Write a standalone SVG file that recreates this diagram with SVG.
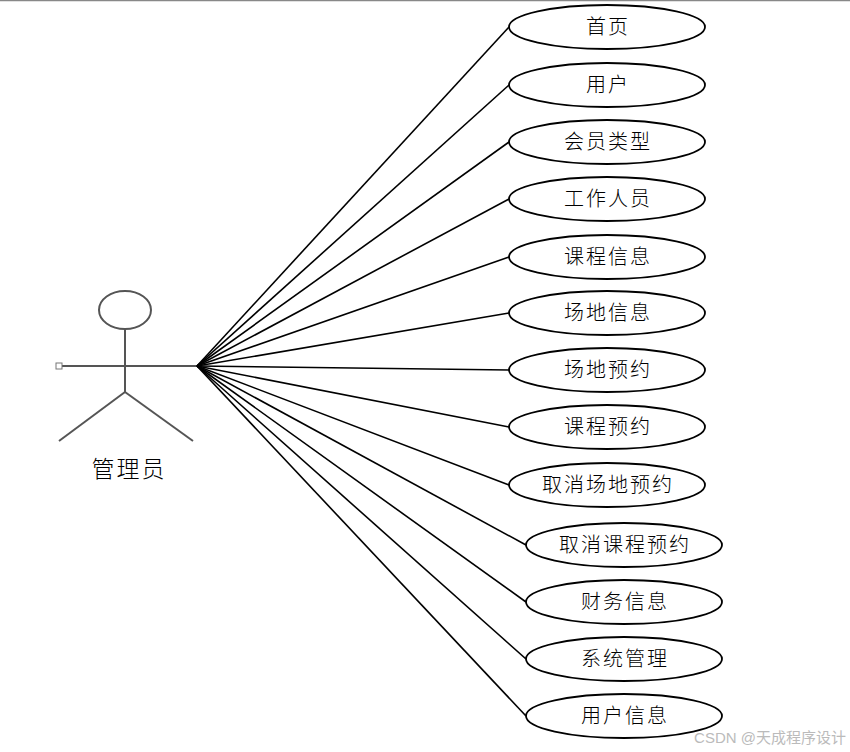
<svg xmlns="http://www.w3.org/2000/svg" width="850" height="752" viewBox="0 0 850 752">
<style>
.e{fill:#fff;stroke:#000;stroke-width:1.8}
.t{font-family:"Liberation Serif","Noto Sans CJK SC",serif;font-size:20px;text-anchor:middle;fill:#000;letter-spacing:2px;font-weight:300}
.c line{stroke:#000;stroke-width:1.6}
.a{stroke:#555;stroke-width:2;fill:none}
</style>
<rect width="850" height="752" fill="#fff"/>
<line x1="0" y1="0.5" x2="850" y2="0.5" stroke="#888" stroke-width="1.5"/>
<g id="actor">
<ellipse class="a" cx="125" cy="310" rx="26" ry="19"/>
<line class="a" x1="125" y1="329" x2="125" y2="392"/>
<line class="a" x1="60" y1="366" x2="197" y2="366"/>
<line class="a" x1="125" y1="392" x2="59" y2="441"/>
<line class="a" x1="125" y1="392" x2="193" y2="441"/>
<rect x="56" y="363" width="6" height="6" fill="#fff" stroke="#777"/>
<text class="t" x="129" y="477" style="font-size:23px">管理员</text>
</g>
<g class="c" id="connectors">
<line x1="197" y1="366" x2="509" y2="27"/>
<line x1="197" y1="366" x2="509" y2="85"/>
<line x1="197" y1="366" x2="509" y2="142"/>
<line x1="197" y1="366" x2="509" y2="199"/>
<line x1="197" y1="366" x2="509" y2="257"/>
<line x1="197" y1="366" x2="509" y2="313"/>
<line x1="197" y1="366" x2="509" y2="370"/>
<line x1="197" y1="366" x2="509" y2="427"/>
<line x1="197" y1="366" x2="509" y2="485"/>
<line x1="197" y1="366" x2="526" y2="545"/>
<line x1="197" y1="366" x2="526" y2="602"/>
<line x1="197" y1="366" x2="526" y2="659"/>
<line x1="197" y1="366" x2="526" y2="716"/>
</g>
<g id="u1"><ellipse class="e" cx="607" cy="27" rx="98" ry="22"/><text class="t" x="608" y="34">首页</text></g>
<g id="u2"><ellipse class="e" cx="607" cy="85" rx="98" ry="22"/><text class="t" x="608" y="92">用户</text></g>
<g id="u3"><ellipse class="e" cx="607" cy="142" rx="98" ry="22"/><text class="t" x="608" y="149">会员类型</text></g>
<g id="u4"><ellipse class="e" cx="607" cy="199" rx="98" ry="22"/><text class="t" x="608" y="206">工作人员</text></g>
<g id="u5"><ellipse class="e" cx="607" cy="257" rx="98" ry="22"/><text class="t" x="608" y="264">课程信息</text></g>
<g id="u6"><ellipse class="e" cx="607" cy="313" rx="98" ry="22"/><text class="t" x="608" y="320">场地信息</text></g>
<g id="u7"><ellipse class="e" cx="607" cy="370" rx="98" ry="22"/><text class="t" x="608" y="377">场地预约</text></g>
<g id="u8"><ellipse class="e" cx="607" cy="427" rx="98" ry="22"/><text class="t" x="608" y="434">课程预约</text></g>
<g id="u9"><ellipse class="e" cx="607" cy="485" rx="98" ry="22"/><text class="t" x="608" y="492">取消场地预约</text></g>
<g id="u10"><ellipse class="e" cx="624" cy="545" rx="98" ry="22"/><text class="t" x="625" y="552">取消课程预约</text></g>
<g id="u11"><ellipse class="e" cx="624" cy="602" rx="98" ry="22"/><text class="t" x="625" y="609">财务信息</text></g>
<g id="u12"><ellipse class="e" cx="624" cy="659" rx="98" ry="22"/><text class="t" x="625" y="666">系统管理</text></g>
<g id="u13"><ellipse class="e" cx="624" cy="716" rx="98" ry="22"/><text class="t" x="625" y="723">用户信息</text></g>
<text x="846" y="743" font-family="'Liberation Sans','Noto Sans CJK SC',sans-serif" font-size="15" fill="#bbb" text-anchor="end">CSDN @天成程序设计</text>
</svg>
